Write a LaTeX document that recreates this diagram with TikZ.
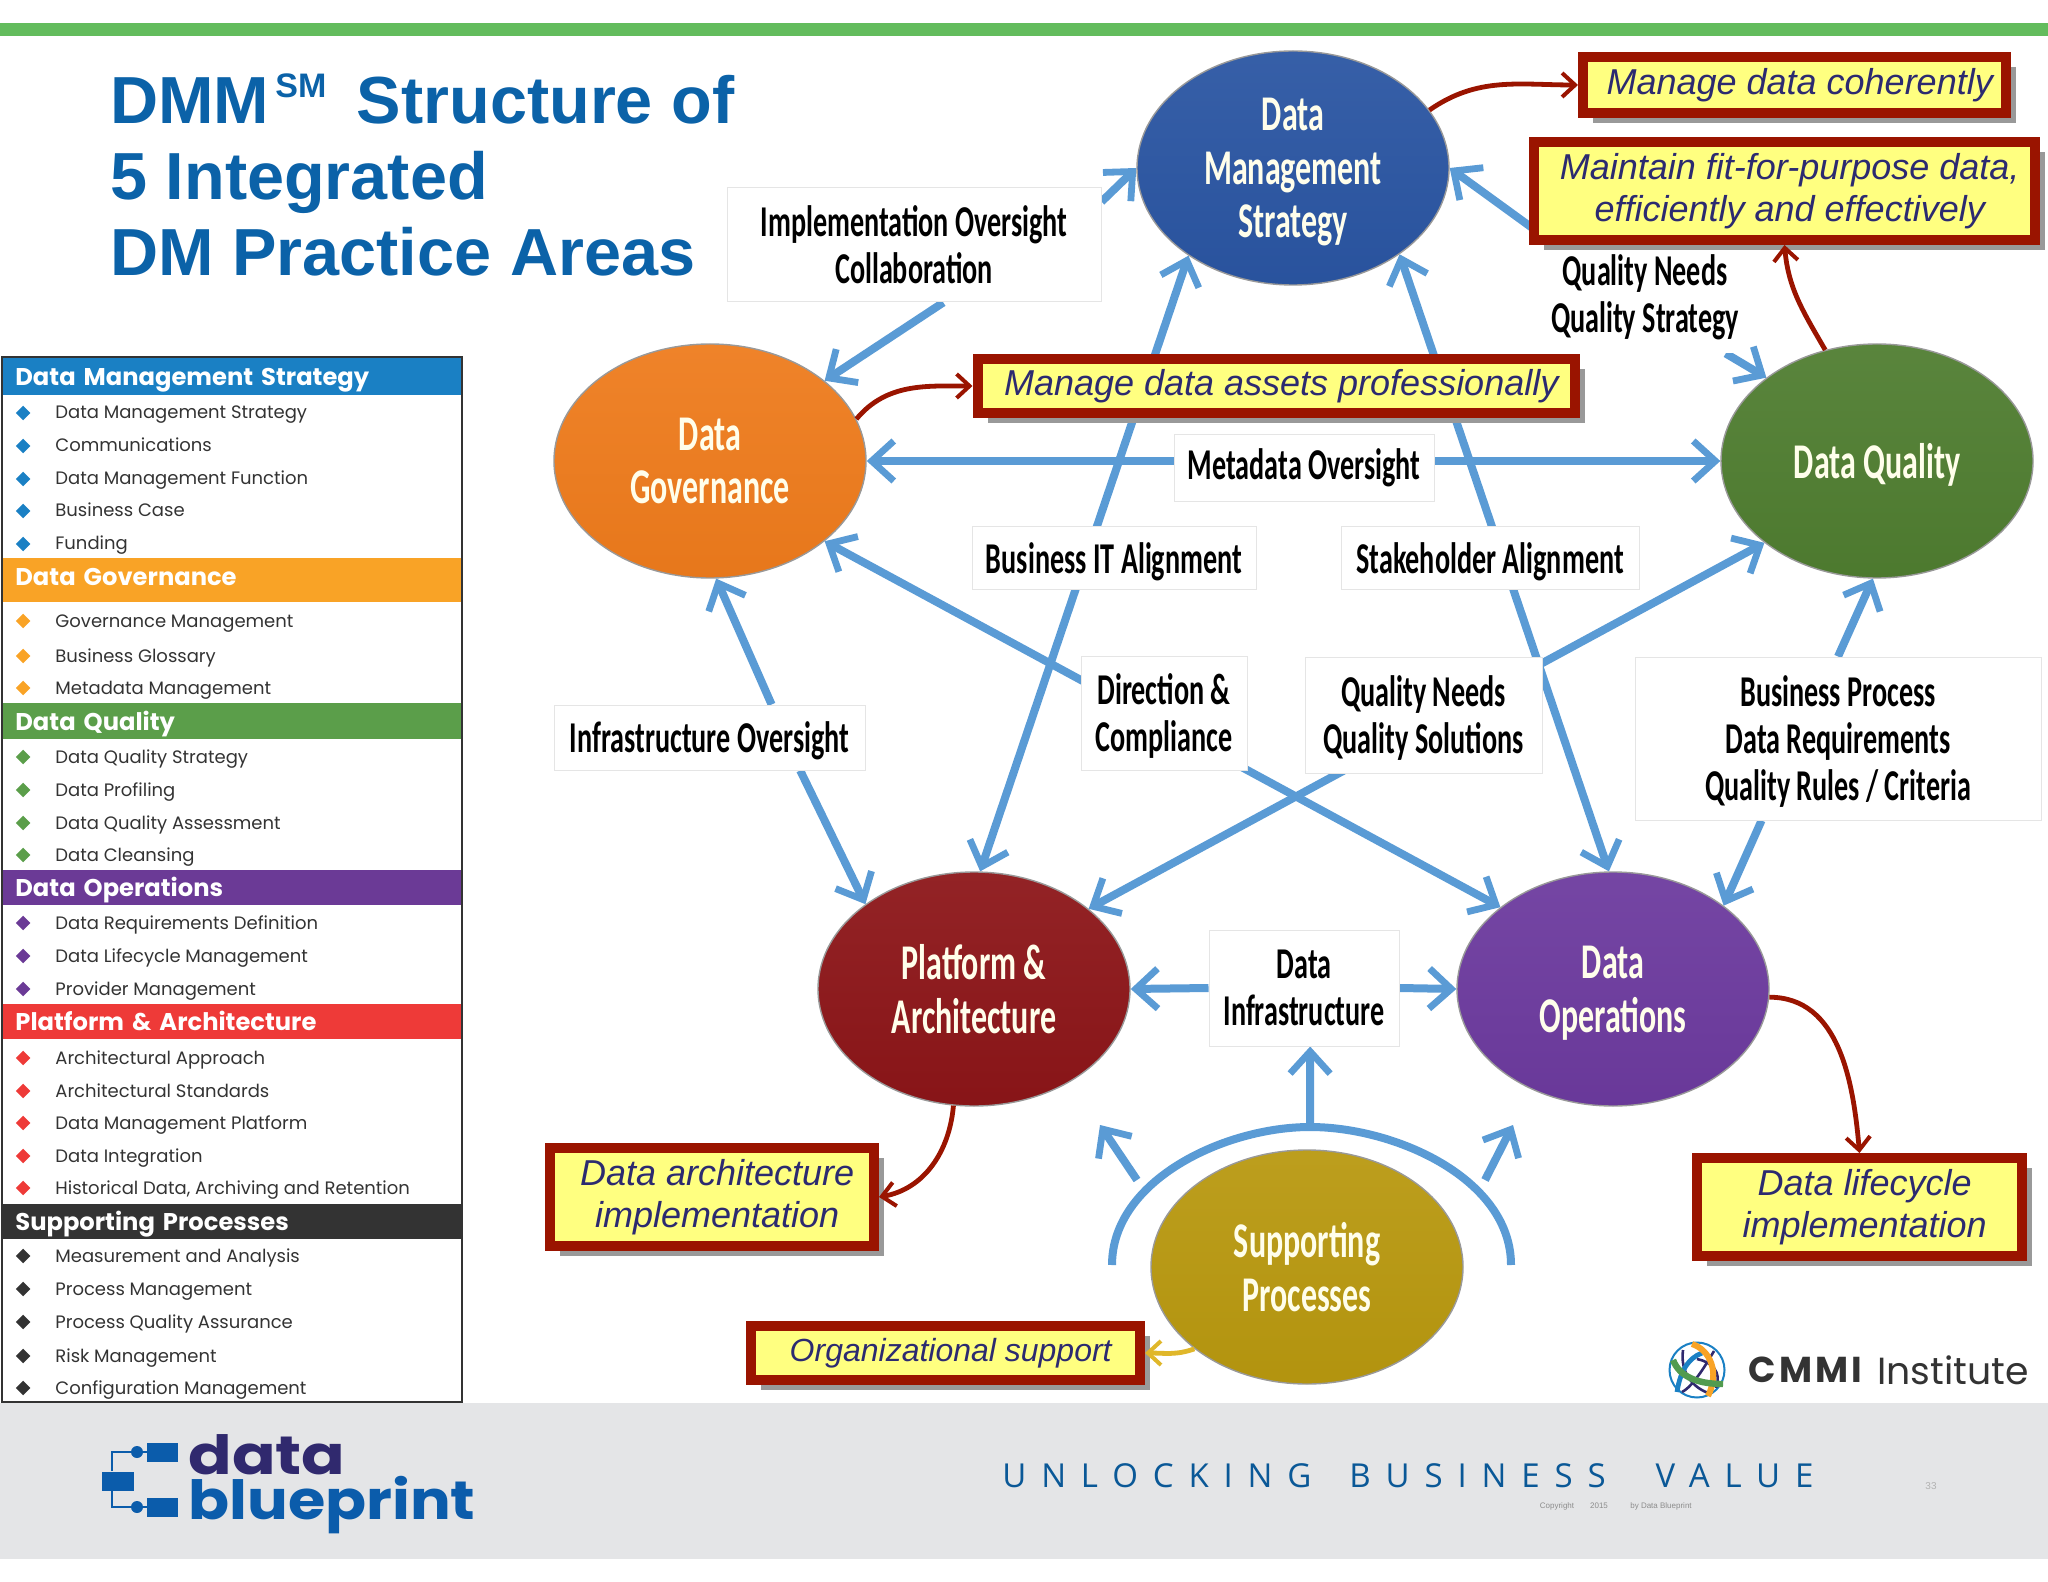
\documentclass[tikz,border=0pt]{standalone}
\usepackage{fontspec}
\usepackage{xcolor}
\usepackage{tikz}
\usetikzlibrary{shapes,arrows.meta,positioning,backgrounds,shadows}
\setmainfont{Liberation Sans}
\newfontfamily\labelfont[FakeStretch=0.64]{Carlito}
\newfontfamily\tablefont{Poppins}
\newfontfamily\cmmifont[LetterSpace=9]{Poppins}
\newfontfamily\stripfont[LetterSpace=45]{Open Sans}
\newfontfamily\datafont[FakeStretch=1.19]{Poppins}
\newfontfamily\printfont[FakeStretch=1.12]{Poppins}
\newcommand{\nudge}{\hspace*{5.2pt}}
\definecolor{titleblue}{HTML}{0B62A8}
\definecolor{topgreen}{HTML}{63BC5D}
\definecolor{stripgray}{HTML}{E4E5E7}
\definecolor{calloutred}{HTML}{9A1400}
\definecolor{calloutfill}{HTML}{FFFF80}
\definecolor{calloutink}{HTML}{2C2A70}
\definecolor{linkblue}{HTML}{5A9BD5}
\definecolor{dmsblue}{HTML}{1A80C4}
\definecolor{dgorange}{HTML}{F9A326}
\definecolor{dqgreen}{HTML}{5B9E4A}
\definecolor{dopurple}{HTML}{6B3A96}
\definecolor{parred}{HTML}{EE3A38}
\definecolor{spblack}{HTML}{333333}
\definecolor{ballblue}{HTML}{2A55A2}
\definecolor{ballorange}{HTML}{EE7B1C}
\definecolor{ballgreen}{HTML}{4F7D30}
\definecolor{ballred}{HTML}{8C1518}
\definecolor{ballpurple}{HTML}{6C3A9E}
\definecolor{ballgold}{HTML}{B8980F}
\definecolor{bpnavy}{HTML}{30296E}
\definecolor{bpblue}{HTML}{0B5CAB}
\definecolor{supportgold}{HTML}{E0B72A}

\begin{document}
\begin{tikzpicture}[
    x=.5pt, y=-.5pt,
    area/.style={ellipse, draw=black!40, line width=.7pt, top color=#1!94!white, middle color=#1, bottom color=#1!97!black, minimum width=156pt, minimum height=117pt, inner sep=0pt, text=white!92!yellow, align=center, font=\labelfont\bfseries\fontsize{25}{26.8}\selectfont},
    labelbox/.style={rectangle, draw=black!10, line width=.5pt, fill=white, inner sep=0pt, align=center, text=black, font=\labelfont\bfseries\fontsize{22}{23.5}\selectfont},
    callout/.style={rectangle, draw=calloutred, line width=5pt, fill=calloutfill, inner sep=0pt, align=center, text=calloutink, font=\itshape\fontsize{18}{21}\selectfont, drop shadow={shadow xshift=5pt, shadow yshift=-5pt, fill=black!40, opacity=1}},
    header/.style={rectangle, fill=#1, anchor=north west, inner xsep=6.5pt, inner ysep=0pt, text width=217pt, text height=9pt, text depth=0pt, text=white, font=\tablefont\bfseries\fontsize{12.1}{13}\selectfont},
    item/.style={rectangle, anchor=west, inner sep=0pt, text height=7pt, text depth=1pt, text=black!80, font=\tablefont\fontsize{9}{10}\selectfont, label={[diamond, fill=#1, inner sep=0pt, minimum size=7.5pt, label distance=12pt]left:{}}},
    band/.style={rectangle, anchor=north west, inner sep=0pt, minimum width=1024pt},
    arrow/.style={line width=4pt, draw=linkblue, -{Straight Barb[length=11pt,width=20pt,line width=3.4pt]}},
    bothway/.style={arrow, {Straight Barb[length=11pt,width=20pt,line width=3.4pt]}-{Straight Barb[length=11pt,width=20pt,line width=3.4pt]}},
    redarrow/.style={line width=2.4pt, draw=calloutred, -{Straight Barb[length=6.5pt,width=12pt,line width=2pt]}},
    logobox/.style={rectangle, fill=bpblue, inner sep=0pt}
]
    \useasboundingbox (0,0) rectangle (2048,1582);

    % Bands
    \node[band, fill=topgreen, minimum height=6.5pt] (topbar) at (0,23) {};
    \node[band, fill=stripgray, minimum height=78pt] (strip) at (0,1403) {};

    % Title
    \node[anchor=west, inner sep=0pt, align=left, text=titleblue, font=\bfseries\fontsize{33.3}{38}\selectfont] (title) at (110,175) {DMM\hspace{3pt}\raisebox{13pt}{\fontsize{17}{18}\selectfont SM}\hspace{6pt} Structure of\\5 Integrated\\DM Practice Areas};

    % Practice Areas Table
    \node[header=dmsblue, minimum height=19pt] (hdms) at (2,357) {Data Management Strategy};
    \node[item=dmsblue] (dms1) at (55,413) {Data Management Strategy};
    \node[item=dmsblue] (dms2) at (55,446) {Communications};
    \node[item=dmsblue] (dms3) at (55,479) {Data Management Function};
    \node[item=dmsblue] (dms4) at (55,511) {Business Case};
    \node[item=dmsblue] (dms5) at (55,544) {Funding};
    \node[header=dgorange, minimum height=22pt, text depth=4pt] (hdg) at (2,558) {Data Governance};
    \node[item=dgorange] (dg1) at (55,621) {Governance Management};
    \node[item=dgorange] (dg2) at (55,656) {Business Glossary};
    \node[item=dgorange] (dg3) at (55,688) {Metadata Management};
    \node[header=dqgreen, minimum height=18pt] (hdq) at (2,703) {Data Quality};
    \node[item=dqgreen] (dq1) at (55,757) {Data Quality Strategy};
    \node[item=dqgreen] (dq2) at (55,790) {Data Profiling};
    \node[item=dqgreen] (dq3) at (55,823) {Data Quality Assessment};
    \node[item=dqgreen] (dq4) at (55,855) {Data Cleansing};
    \node[header=dopurple, minimum height=17.5pt] (hdo) at (2,870) {Data Operations};
    \node[item=dopurple] (do1) at (55,923) {Data Requirements Definition};
    \node[item=dopurple] (do2) at (55,956) {Data Lifecycle Management};
    \node[item=dopurple] (do3) at (55,989) {Provider Management};
    \node[header=parred, minimum height=17.5pt] (hpa) at (2,1004) {Platform \& Architecture};
    \node[item=parred] (pa1) at (55,1058) {Architectural Approach};
    \node[item=parred] (pa2) at (55,1091) {Architectural Standards};
    \node[item=parred] (pa3) at (55,1123) {Data Management Platform};
    \node[item=parred] (pa4) at (55,1156) {Data Integration};
    \node[item=parred] (pa5) at (55,1188) {Historical Data, Archiving and Retention};
    \node[header=spblack, minimum height=17.5pt] (hsp) at (2,1204) {Supporting Processes};
    \node[item=spblack] (sp1) at (55,1256) {Measurement and Analysis};
    \node[item=spblack] (sp2) at (55,1289) {Process Management};
    \node[item=spblack] (sp3) at (55,1322) {Process Quality Assurance};
    \node[item=spblack] (sp4) at (55,1356) {Risk Management};
    \node[item=spblack] (sp5) at (55,1388) {Configuration Management};
    \node[rectangle, draw=black!80, line width=1pt, inner sep=0pt, minimum width=230pt, minimum height=522.5pt] (frame) at (232,879.5) {};

    % Practice Areas
    \node[area=ballblue, text depth=0pt] (dms) at (1293,168) {Data\\Management\\Strategy};
    \node[area=ballorange] (dg) at (710,461) {Data\\Governance};
    \node[area=ballgreen, text depth=0pt] (dq) at (1877,461) {Data Quality};
    \node[area=ballred] (pa) at (974,989) {Platform \&\\Architecture};
    \node[area=ballpurple, text depth=0pt] (do) at (1613,989) {Data\\Operations};
    \node[area=ballgold] (sp) at (1307,1267) {Supporting\\Processes};

    % Link Labels
    \node[labelbox, minimum width=187pt, minimum height=57pt] (impl) at (914,245) {Implementation Oversight\\Collaboration};
    \node[labelbox, draw=none, minimum width=95pt, minimum height=56pt] (qstrat) at (1645,297) {Quality Needs\\Quality Strategy};
    \node[labelbox, minimum width=130pt, minimum height=33.5pt] (meta) at (1304,468) {Metadata Oversight};
    \node[labelbox, text depth=0pt, minimum width=142pt, minimum height=31.5pt] (bit) at (1114,558) {Business IT Alignment};
    \node[labelbox, text depth=0pt, minimum width=149pt, minimum height=31.5pt] (stake) at (1490,558) {Stakeholder Alignment};
    \node[labelbox, text depth=0pt, minimum width=155.5pt, minimum height=32.5pt] (infra) at (709.5,737.5) {Infrastructure Oversight};
    \node[labelbox, text depth=0pt, minimum width=83pt, minimum height=57pt] (direct) at (1164,713) {Direction \&\\Compliance};
    \node[labelbox, text depth=0pt, minimum width=118.5pt, minimum height=58pt] (qsol) at (1423.5,715) {Quality Needs\\Quality Solutions};
    \node[labelbox, text depth=0pt, minimum width=203pt, minimum height=81.5pt] (bproc) at (1838,738.5) {Business Process\\Data Requirements\\Quality Rules / Criteria};
    \node[labelbox, minimum width=95pt, minimum height=58pt] (dinf) at (1304,988) {Data\\Infrastructure};

    % Callouts
    \node[callout, minimum width=211.5pt, minimum height=28pt] (coherent) at (1794.5,85) {\nudge Manage data coherently};
    \node[callout, minimum width=250.5pt, minimum height=49pt] (fitness) at (1784.5,191) {\nudge Maintain fit-for-purpose data,\\\nudge efficiently and effectively};
    \node[callout, minimum width=298.5pt, minimum height=27pt] (assets) at (1276,386) {\nudge Manage data assets professionally};
    \node[callout, minimum width=162pt, minimum height=49pt] (archimpl) at (712,1197) {\nudge Data architecture\\\nudge implementation};
    \node[callout, font=\itshape\fontsize{16}{19}\selectfont, minimum width=194.5pt, minimum height=27pt] (orgsup) at (945.5,1353) {\nudge Organizational support};
    \node[callout, minimum width=162.5pt, minimum height=49pt] (lifeimpl) at (1859.5,1207) {\nudge Data lifecycle\\\nudge implementation};

    % Footer
    \node[anchor=west, inner sep=0pt, text=titleblue!90!black, font=\stripfont\fontsize{16.5}{18}\selectfont] (motto) at (1002,1476) {UNLOCKING\hspace{19pt}BUSINESS\hspace{25pt}VALUE};
    \node[inner sep=0pt, text=black!45, font=\fontsize{4}{5}\selectfont] (copy1) at (1557,1506) {Copyright};
    \node[inner sep=0pt, text=black!45, font=\fontsize{4}{5}\selectfont] (copy2) at (1599,1506) {2015};
    \node[inner sep=0pt, text=black!45, font=\fontsize{4}{5}\selectfont] (copy3) at (1661,1506) {by Data Blueprint};
    \node[inner sep=0pt, text=black!30, font=\fontsize{5}{6}\selectfont] (pagenum) at (1931,1486) {33};

    % CMMI Logo
    \node[ellipse, draw=dmsblue, line width=1pt, fill=white, minimum width=27.5pt, minimum height=27.5pt, inner sep=0pt] (globe) at (1697,1370) {};
    \draw[bpnavy, line width=1.3pt] (1683,1350) .. controls (1680,1372) and (1692,1388) .. (1711,1394);
    \draw[bpnavy, line width=1.3pt] (1697,1359) .. controls (1712,1362) and (1722,1372) .. (1716,1388);
    \draw[bpnavy, line width=1.3pt] (1714,1351) .. controls (1700,1375) and (1690,1388) .. (1682,1392);
    \draw[dmsblue, line width=2.4pt] (1702,1353) .. controls (1688,1358) and (1680,1372) .. (1677,1392);
    \draw[dgorange, line width=3pt] (1692,1344) .. controls (1710,1350) and (1720,1372) .. (1708,1396);
    \draw[dqgreen!90!teal, line width=3.2pt] (1673,1360) .. controls (1680,1378) and (1700,1384) .. (1723,1384);
    \node[anchor=west, inner sep=0pt, text=black!80, font=\cmmifont\bfseries\fontsize{18}{20}\selectfont] (cmmi) at (1748,1370) {CMMI};
    \node[anchor=west, inner sep=0pt, text=black!80, font=\tablefont\fontsize{18.9}{20}\selectfont] (inst) at (1877,1370) {Institute};

    % Data Blueprint Logo
    \node[logobox, minimum width=16pt, minimum height=9.5pt] (bpbig) at (118,1481) {};
    \node[logobox, minimum width=15.5pt, minimum height=9.5pt] (bpup) at (162.5,1452) {};
    \node[logobox, minimum width=15.5pt, minimum height=9.5pt] (bplow) at (162.5,1507) {};
    \draw[bpblue, line width=.8pt] (bpbig.north) ++(-6,0) |- (bpup.west);
    \draw[bpblue, line width=.8pt] (bpbig.south) ++(-6,0) |- (bplow.west);
    \fill[bpblue] (137,1452) circle (3pt) (137,1507) circle (3pt);
    \node[anchor=west, inner sep=0pt, align=left, font=\bfseries\fontsize{27}{22.5}\selectfont] (bpword) at (188,1484) {\textcolor{bpnavy}{\datafont\bfseries data}\\\textcolor{bpblue}{\printfont\bfseries blueprint}};

    % Supporting Arc
    \coordinate (arcleft) at (1112,1265);
    \coordinate (arcright) at (1511,1265);
    \coordinate (arctop) at (1310,1127);
    \coordinate (branchleft) at (1137,1180);
    \coordinate (branchright) at (1485,1180);
    \coordinate (tipleft) at (1100,1125);
    \coordinate (tipright) at (1513,1125);

    % Blue Links
    \begin{scope}[on background layer]
        \draw[arrow] (impl.13) -- (dms.180);
        \draw[arrow] (impl.-63) -- (dg.35);
        \draw[arrow] (qstrat.north west) -- (dms.east);
        \draw[arrow] (qstrat.-35) -- (dq.143);
        \draw[bothway] (dg.east) -- (dq.west);
        \draw[bothway] (dms.220) -- (pa.87);
        \draw[bothway] (dms.-39) -- (do.92);
        \draw[bothway] (dg.-35) -- (do.144);
        \draw[bothway] (dq.216) -- (pa.35);
        \draw[arrow] (infra.28) -- (dg.-87);
        \draw[arrow] (infra.-20) -- (pa.142);
        \draw[arrow] (bproc.north) -- (dq.-92);
        \draw[arrow] (bproc.-133) -- (do.37);
        \draw[arrow] (dinf.west) -- (pa.east);
        \draw[arrow] (dinf.east) -- (do.west);
        \draw[line width=4pt, draw=linkblue] (arcleft) to[out=90,in=180,looseness=.9] (arctop) to[out=0,in=90,looseness=.9] (arcright);
        \draw[arrow] (arctop) -- (dinf.-84);
        \draw[arrow] (branchleft) -- (tipleft);
        \draw[arrow] (branchright) -- (tipright);
    \end{scope}

    % Red Links
    \draw[redarrow] (dms.23) to[out=35,in=180] (coherent.west);
    \draw[redarrow] (dq.115) to[out=120,in=-85] (fitness.south);
    \draw[redarrow] (dg.16) to[out=50,in=180] (assets.west);
    \draw[redarrow] (pa.-100) to[out=-95,in=10] (archimpl.east);
    \draw[redarrow] (do.-3) to[out=0,in=95] (lifeimpl.north);
    \draw[redarrow, draw=supportgold] (sp.216) to[out=-160,in=0] (orgsup.east);
\end{tikzpicture}
\end{document}
